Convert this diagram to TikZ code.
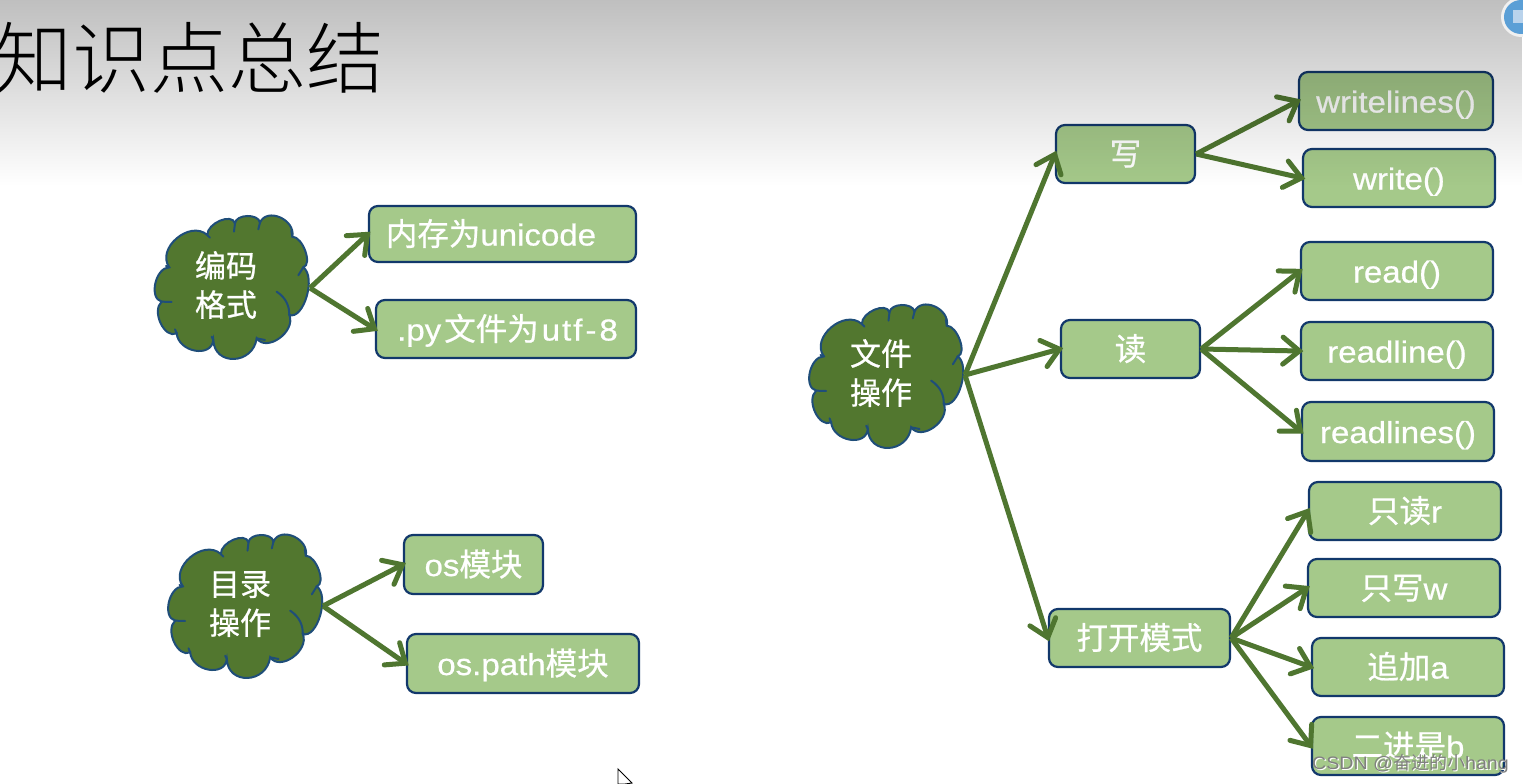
\documentclass[tikz,border=0pt]{standalone}
\usepackage{fontspec}
\setmainfont[FakeStretch=1.09,FakeBold=0.7]{Liberation Sans}
\newfontfamily\wmlatin[FakeStretch=1.09]{Liberation Sans}
\newfontfamily\cjk[FakeBold=0.7]{Noto Sans CJK SC}
\newfontfamily\cjkplain{Noto Sans CJK SC}
\newfontfamily\cjktitle[UprightFont={* Light}]{Noto Sans CJK SC}
\usetikzlibrary{arrows.meta,calc,fadings}
\definecolor{boxfill}{HTML}{A5C98A}
\definecolor{boxedge}{HTML}{12386B}
\definecolor{cloudfill}{HTML}{52772F}
\definecolor{cloudedge}{HTML}{1F4E79}
\definecolor{linkcol}{HTML}{4F7630}
\definecolor{iconblue}{HTML}{5B9FD6}
\definecolor{iconpale}{HTML}{B9D3EC}
\tikzfading[name=topfade,top color=transparent!0,bottom color=transparent!100]
\pgfdeclarearrow{
 name=StraightHead,
 setup code={\pgfarrowssettipend{0pt}\pgfarrowssetlineend{-3pt}\pgfarrowssetvisualbackend{-18pt}\pgfarrowssetbackend{-19pt}\pgfarrowshullpoint{0pt}{0pt}\pgfarrowshullpoint{-19pt}{14pt}\pgfarrowshullpoint{-19pt}{-14pt}},
 drawing code={\pgfsetdash{}{0pt}\pgfsetroundcap\pgfsetmiterjoin\pgfsetlinewidth{5pt}\pgfpathmoveto{\pgfqpoint{-18pt}{13.5pt}}\pgfpathlineto{\pgfqpoint{-1.5pt}{0pt}}\pgfpathlineto{\pgfqpoint{-18pt}{-13.5pt}}\pgfusepathqstroke},
}
\newcommand\zh[1]{{\fontsize{31.5}{36}\selectfont\cjk #1}}
\newcommand\lobe[3]{.. controls ($1.3333*(#2)+.2833*(#1)-.6167*(#3)$) and ($1.3333*(#2)-.6167*(#1)+.2833*(#3)$) .. (#3)}
\newcommand\puff[2]{%
 \begin{scope}[shift={(#1,#2)},scale=0.3333]
  \coordinate (A) at (118,232); \coordinate (B) at (232,135); \coordinate (C) at (315,100);
  \coordinate (D) at (390,98); \coordinate (E) at (487,140); \coordinate (F) at (520,232);
  \coordinate (G) at (478,375); \coordinate (H) at (380,445); \coordinate (I) at (250,450);
  \coordinate (J) at (140,430); \coordinate (K) at (95,335);
  \coordinate (A1) at (140,145); \coordinate (B1) at (270,92); \coordinate (C1) at (352,78);
  \coordinate (D1) at (450,82); \coordinate (E1) at (526,183); \coordinate (F1) at (530,320);
  \coordinate (G1) at (448,445); \coordinate (H1) at (312,507); \coordinate (I1) at (195,482);
  \coordinate (J1) at (92,400); \coordinate (K1) at (76,280);
  \path[puffshape] (A) \lobe{A}{A1}{B} \lobe{B}{B1}{C} \lobe{C}{C1}{D} \lobe{D}{D1}{E}
    \lobe{E}{E1}{F} \lobe{F}{F1}{G} \lobe{G}{G1}{H} \lobe{H}{H1}{I} \lobe{I}{I1}{J}
    \lobe{J}{J1}{K} \lobe{K}{K1}{A} -- cycle;
  \draw[puffline] (A) -- (108,228);
  \draw[puffline] (B) -- (240,143);
  \draw[puffline] (C) -- (312,125);
  \draw[puffline] (D) -- (385,118);
  \draw[puffline] (E) -- (484,122);
  \draw[puffline] (F) -- (505,256);
  \draw[puffline] (440,305) .. controls (470,325) and (478,350) .. (G);
  \draw[puffline] (H) -- (405,450);
  \draw[puffline] (I) -- (245,440);
  \draw[puffline] (J) -- (135,418);
  \draw[puffline] (K) -- (125,336);
 \end{scope}}
\newcommand\bx[6]{\node[boxnode,minimum width={#4-#2},minimum height={#5-#3}] (#1) at ({(#2+#4)/2},{(#3+#5)/2}) {#6};}
\tikzset{
 x=1pt,y=-1pt,
 boxnode/.style={draw=boxedge,fill=boxfill,line width=2.2pt,rounded corners=9pt,inner sep=0pt,text=white,text height=28pt,text depth=5pt,font=\fontsize{30.3}{34}\selectfont},
 puffshape/.style={draw=cloudedge,fill=cloudfill,line width=2pt},
 puffline/.style={draw=cloudedge,line width=2pt,line cap=round},
 pufftext/.style={text=white,inner sep=0pt,align=center,font=\fontsize{31}{39}\selectfont\cjk},
 linkarrow/.style={draw=linkcol,line width=5pt,-{StraightHead},shorten >=-1pt},
}
\begin{document}
\begin{tikzpicture}
\clip (0,0) rectangle (1523,784);
\fill[white] (0,0) rectangle (1523,784);
\node[anchor=west,inner sep=0pt,font=\fontsize{78}{80}\selectfont\cjktitle,text=black] (title) at (-6,58) {知识点总结};
% clouds
\puff{130}{190}
\puff{143.5}{509}
\puff{784.5}{279}
\node[pufftext] (c1) at (226,285) {编码\\格式};
\node[pufftext] (c2) at (240,604) {目录\\操作};
\node[pufftext] (c3) at (881,373) {文件\\操作};
\coordinate (c1e) at (310,288);
\coordinate (c2e) at (323,606);
\coordinate (c3e) at (965,375);
% boxes
\bx{b1}{369}{206}{636}{262}{\zh{内存为}unicode\hspace{23pt}\null}
\bx{b2}{376}{300}{636}{358}{\hspace{3pt}.py\kern3pt\zh{文件为}\kern3pt u\kern2pt t\kern2pt f\kern3pt -\kern3pt 8}
\bx{b3}{404}{535}{543}{594}{os\zh{模块}}
\bx{b4}{407}{634}{639}{693}{os.path\zh{模块}}
\bx{w}{1056}{125}{1195}{183}{\zh{写}}
\bx{r}{1061}{320}{1200}{378}{\zh{读}}
\bx{o}{1049}{609}{1230}{667}{\zh{打开模式}}
\bx{w1}{1299}{72}{1493}{130}{writelines()}
\bx{w2}{1303}{149}{1495}{207}{write()}
\bx{r1}{1301}{242}{1493}{300}{read()}
\bx{r2}{1301}{322}{1493}{380}{readline()}
\bx{r3}{1302}{402}{1494}{461}{readlines()}
\bx{o1}{1309}{482}{1501}{540}{\zh{只读}r}
\bx{o2}{1308}{559}{1500}{617}{\zh{只写}w}
\bx{o3}{1312}{638}{1504}{696}{\zh{追加}a}
\bx{o4}{1312}{717}{1504}{775}{\zh{二进是}b}
% connectors
\draw[linkarrow] (c1e) -- (b1.west);
\draw[linkarrow] (c1e) -- (b2.west);
\draw[linkarrow] (c2e) -- (b3.west);
\draw[linkarrow] (c2e) -- (b4.west);
\draw[linkarrow] (c3e) -- (w.west);
\draw[linkarrow] (c3e) -- (r.west);
\draw[linkarrow] (c3e) -- (o.west);
\draw[linkarrow] (w.east) -- (w1.west);
\draw[linkarrow] (w.east) -- (w2.west);
\draw[linkarrow] (r.east) -- (r1.west);
\draw[linkarrow] (r.east) -- (r2.west);
\draw[linkarrow] (r.east) -- (r3.west);
\draw[linkarrow] (o.east) -- (o1.west);
\draw[linkarrow] (o.east) -- (o2.west);
\draw[linkarrow] (o.east) -- (o3.west);
\draw[linkarrow] (o.east) -- (o4.west);
% top shadow
\fill[black,opacity=.25,path fading=topfade] (0,0) rectangle (1523,185);
% icon
\fill[white!88!gray] (1521,17) circle (20);
\fill[iconblue] (1521,17) circle (17);
\fill[iconpale] (1513,10) rectangle (1523,23);
% watermark
\node[anchor=west,inner sep=0pt,text=white,font=\fontsize{18}{20}\selectfont\wmlatin] at (1313.2,765.2) {CSDN @{\cjkplain 奋进的小}hang};
\node[anchor=west,inner sep=0pt,text=black!50,font=\fontsize{18}{20}\selectfont\wmlatin] (mark) at (1312,764) {CSDN @{\cjkplain 奋进的小}hang};
% cursor
\draw[black,line width=.9pt,fill=white] (618,769) -- (618,784) -- (625,784) -- (632,783) -- cycle;
\end{tikzpicture}
\end{document}
